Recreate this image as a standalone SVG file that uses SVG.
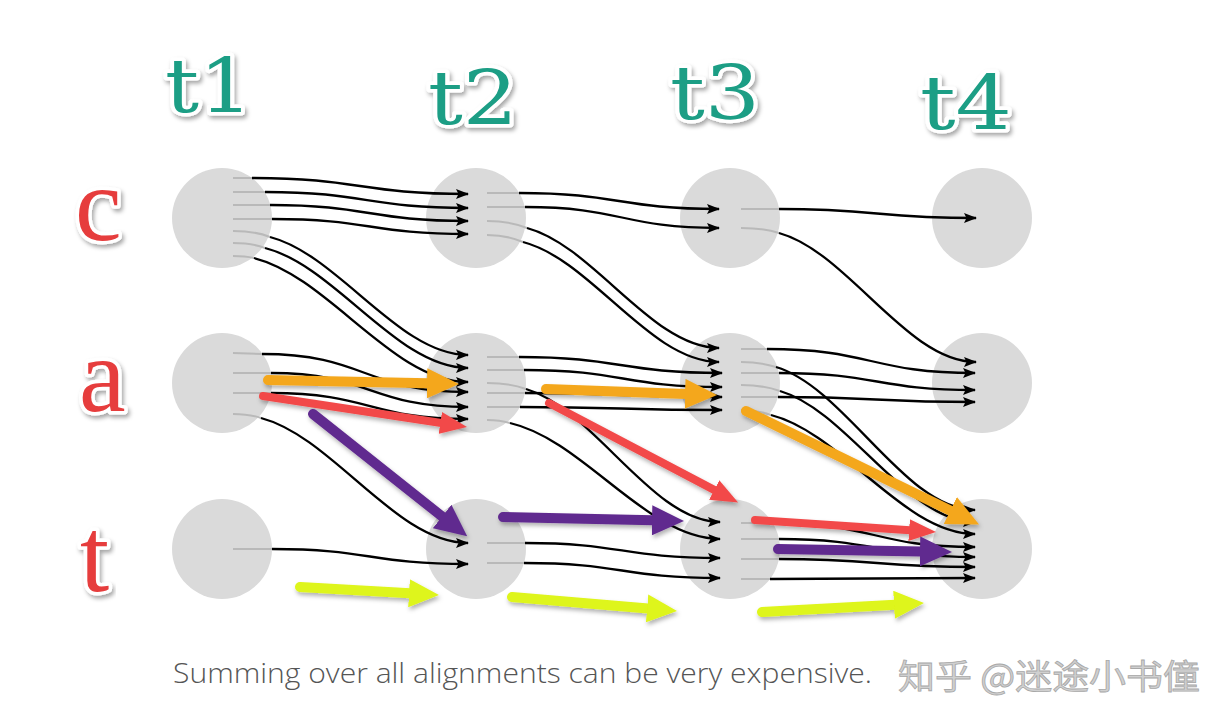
<svg xmlns="http://www.w3.org/2000/svg" width="1231" height="725" viewBox="0 0 1231 725">
<style>
.node{fill:#dadada}
.stub{fill:none;stroke:#b9b9b9;stroke-width:2}
.blk{fill:none;stroke:#000;stroke-width:2.3;marker-end:url(#ah)}
.tl{font-family:"DejaVu Serif",serif;font-size:74px;fill:#1b9e85;stroke:#fff;stroke-width:7;stroke-linejoin:round;paint-order:stroke;filter:url(#tsh)}
.rl{font-family:"Liberation Serif",serif;font-size:105px;fill:#e63c3c;stroke:#fff;stroke-width:7;stroke-linejoin:round;paint-order:stroke;filter:url(#tsh)}
.ca{fill:none;stroke-linecap:round}
.or{stroke:#f4a71d;stroke-width:10;marker-end:url(#mo)}
.rd{stroke:#f24a4a;stroke-width:8;marker-end:url(#mr)}
.pu{stroke:#612a8f;stroke-width:10;marker-end:url(#mp)}
.ye{stroke:#def51a;stroke-width:10;marker-end:url(#my)}
</style>
<defs>
<filter id="tsh" x="-20%" y="-20%" width="140%" height="150%"><feDropShadow dx="2" dy="3" stdDeviation="2" flood-color="#000" flood-opacity="0.35"/></filter>
<filter id="ash" x="-20%" y="-20%" width="140%" height="150%"><feDropShadow dx="1.5" dy="3" stdDeviation="2" flood-color="#000" flood-opacity="0.3"/></filter>
<marker id="ah" markerUnits="userSpaceOnUse" markerWidth="13" markerHeight="10" refX="12" refY="5" orient="auto"><path d="M0,0 L13,5 L0,10 L2.5,5 z" fill="#000"/></marker>
<marker id="mo" markerUnits="userSpaceOnUse" markerWidth="32" markerHeight="30" refX="1" refY="15" orient="auto"><path d="M0,0 L32,15 L0,30 z" fill="#f4a71d"/></marker>
<marker id="mr" markerUnits="userSpaceOnUse" markerWidth="27" markerHeight="22" refX="1" refY="11" orient="auto"><path d="M0,0 L27,11 L0,22 z" fill="#f24a4a"/></marker>
<marker id="mp" markerUnits="userSpaceOnUse" markerWidth="32" markerHeight="30" refX="1" refY="15" orient="auto"><path d="M0,0 L32,15 L0,30 z" fill="#612a8f"/></marker>
<marker id="my" markerUnits="userSpaceOnUse" markerWidth="30" markerHeight="28" refX="1" refY="14" orient="auto"><path d="M0,0 L30,14 L0,28 z" fill="#def51a"/></marker>
</defs>
<rect width="1231" height="725" fill="#fff"/>

<g id="labels">
<text class="tl" x="165" y="112" textLength="88" lengthAdjust="spacingAndGlyphs">t1</text>
<text class="tl" x="428" y="124" textLength="90" lengthAdjust="spacingAndGlyphs">t2</text>
<text class="tl" x="670" y="119" textLength="90" lengthAdjust="spacingAndGlyphs">t3</text>
<text class="tl" x="920" y="129" textLength="92" lengthAdjust="spacingAndGlyphs">t4</text>
<text class="rl" x="75" y="240">c</text>
<text class="rl" x="79" y="411">a</text>
<text class="rl" x="80" y="591">t</text>
</g>

<g id="n-c1"><circle class="node" cx="222" cy="218" r="50"/></g>
<g id="n-c2"><circle class="node" cx="476" cy="218" r="50"/></g>
<g id="n-c3"><circle class="node" cx="730" cy="218" r="50"/></g>
<g id="n-c4"><circle class="node" cx="982" cy="218" r="50"/></g>
<g id="n-a1"><circle class="node" cx="222" cy="383" r="50"/></g>
<g id="n-a2"><circle class="node" cx="476" cy="383" r="50"/></g>
<g id="n-a3"><circle class="node" cx="730" cy="383" r="50"/></g>
<g id="n-a4"><circle class="node" cx="982" cy="383" r="50"/></g>
<g id="n-t1"><circle class="node" cx="222" cy="549" r="50"/></g>
<g id="n-t2"><circle class="node" cx="476" cy="549" r="50"/></g>
<g id="n-t3"><circle class="node" cx="730" cy="549" r="50"/></g>
<g id="n-t4"><circle class="node" cx="982" cy="549" r="50"/></g>

<g id="connectors">
<g id="stubs">
<path class="stub" d="M233,178 L252,178 M233,192 L265,192 M233,205 L270,205 M233,219 L272,219"/>
<path class="stub" d="M233,231 Q255,231 270,237 M233,243 Q252,243 265,248 M233,256 Q245,256 254,258"/>
<path class="stub" d="M233,353 L262,354 M233,373 L271,373 M233,393 L271,393 M233,414 Q249,414 261,418"/>
<path class="stub" d="M233,549 L272,549"/>
<path class="stub" d="M487,193 L519,193 M487,207 L525,207 M487,221 Q510,221 527,228 M487,235 Q507,235 523,242"/>
<path class="stub" d="M487,357 L519,357 M487,370 L524,370 M487,383 Q510,383 526,389 M487,393 L525,393 M487,407 L520,407 M487,420 Q500,420 510,423"/>
<path class="stub" d="M487,543 L525,543 M487,563 L524,563"/>
<path class="stub" d="M741,209 L779,209 M741,228 Q763,228 779,233"/>
<path class="stub" d="M741,349 L767,349 M741,362 Q760,362 776,367 M741,373 L779,373 M741,385 Q763,385 780,391 M741,397 L778,397 M741,410 Q757,410 771,415"/>
<path class="stub" d="M741,523 L773,523 M741,539 L779,539 M741,559 L779,559 M741,579 L770,579"/>
</g>
<g id="edges">
<path class="blk" d="M252,178 C360,178 360,194 468,194"/>
<path class="blk" d="M265,192 C367,192 367,208 468,208"/>
<path class="blk" d="M270,205 C369,205 369,221 468,221"/>
<path class="blk" d="M272,219 C370,219 370,234 468,234"/>
<path class="blk" d="M270,237 C339,255 399,355 468,355"/>
<path class="blk" d="M265,248 C336,266 397,368 468,368"/>
<path class="blk" d="M254,258 C329,277 393,382 468,382"/>
<path class="blk" d="M262,354 C365,354 365,392 468,392"/>
<path class="blk" d="M271,373 C370,373 370,407 468,407"/>
<path class="blk" d="M271,393 C370,393 370,419 468,419"/>
<path class="blk" d="M261,418 C333,437 396,543 468,543"/>
<path class="blk" d="M272,549 C370,549 370,564 468,564"/>

<path class="blk" d="M519,193 C619,193 619,209 719,209"/>
<path class="blk" d="M525,207 C622,207 622,228 719,228"/>
<path class="blk" d="M527,228 C594,246 652,348 719,348"/>
<path class="blk" d="M523,242 C592,260 650,362 719,362"/>
<path class="blk" d="M519,357 C620,357 621,373 722,373"/>
<path class="blk" d="M524,370 C623,370 623,387 722,387"/>
<path class="blk" d="M525,393 C623,393 623,397 722,397"/>
<path class="blk" d="M520,407 C621,407 621,410 722,410"/>
<path class="blk" d="M526,389 C594,409 652,522 720,522"/>
<path class="blk" d="M510,423 C584,440 647,539 720,539"/>
<path class="blk" d="M525,543 C622,543 622,558 720,558"/>
<path class="blk" d="M524,563 C622,563 622,578 720,578"/>

<path class="blk" d="M779,209 C877,209 877,218 976,218"/>
<path class="blk" d="M779,233 C848,252 907,362 976,362"/>
<path class="blk" d="M767,349 C871,349 871,373 975,373"/>
<path class="blk" d="M779,373 C877,373 877,390 975,390"/>
<path class="blk" d="M778,397 C876,397 876,402 975,402"/>
<path class="blk" d="M776,367 C846,388 905,510 975,510"/>
<path class="blk" d="M780,391 C848,411 907,522 975,522"/>
<path class="blk" d="M771,415 C842,433 904,534 975,534"/>
<path class="blk" d="M773,523 C874,523 874,547 975,547"/>
<path class="blk" d="M779,539 C877,539 877,557 975,557"/>
<path class="blk" d="M779,559 C877,559 877,567 975,567"/>
<path class="blk" d="M770,579 C872,579 872,578 975,578"/>
</g>
<g id="paths" filter="url(#ash)">
<line class="ca or" x1="268" y1="380" x2="428" y2="383.3"/>
<line class="ca or" x1="546" y1="389" x2="686" y2="393.9"/>
<line class="ca or" x1="746" y1="411" x2="951.2" y2="511"/>
<line class="ca rd" x1="263" y1="396" x2="441.3" y2="423"/>
<line class="ca rd" x1="549" y1="403" x2="715.1" y2="490.4"/>
<line class="ca rd" x1="755" y1="520" x2="910.1" y2="530.2"/>
<line class="ca pu" x1="313" y1="414" x2="442.9" y2="517.1"/>
<line class="ca pu" x1="503" y1="517" x2="653" y2="520.3"/>
<line class="ca pu" x1="778" y1="549" x2="921" y2="551.5"/>
<line class="ca ye" x1="300" y1="587" x2="410" y2="593.3"/>
<line class="ca ye" x1="512" y1="597" x2="648.1" y2="608.5"/>
<line class="ca ye" x1="762" y1="612" x2="895" y2="604.7"/>
</g>
</g>

<text x="173" y="683" textLength="699" lengthAdjust="spacingAndGlyphs" font-family="'Open Sans','Noto Sans',sans-serif" font-weight="300" font-size="28" fill="#555">Summing over all alignments can be very expensive.</text>
<text x="898" y="689" textLength="302" lengthAdjust="spacingAndGlyphs" font-family="'Noto Sans CJK SC',sans-serif" font-size="34" fill="#d0d0d0" stroke="#a8a8a8" stroke-width="0.8">知乎 @迷途小书僮</text>
</svg>
